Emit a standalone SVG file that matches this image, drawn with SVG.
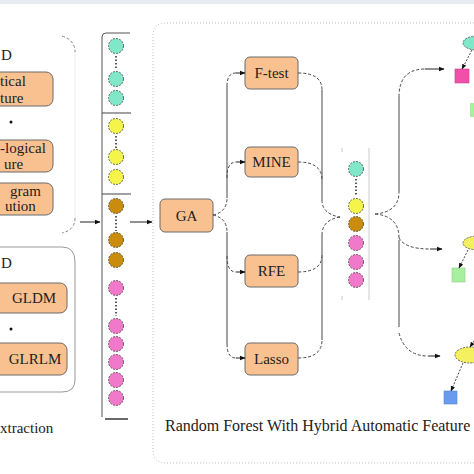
<svg xmlns="http://www.w3.org/2000/svg" width="474" height="474" viewBox="0 0 474 474">
<defs>
<marker id="ah" viewBox="0 0 10 10" refX="9" refY="5" markerWidth="6" markerHeight="6" orient="auto"><path d="M0,1 L10,5 L0,9 z" fill="#111"/></marker>
<style>
.box{fill:#F9C18F;stroke:#6a6a6a;stroke-width:1}
.lbl{font-family:"Liberation Serif","Times New Roman",serif;font-size:15px;fill:#222}
.cv{fill:none;stroke:#444;stroke-width:1;stroke-dasharray:3,2}
.vl{fill:none;stroke:#666;stroke-width:1.2}
.ar{fill:none;stroke:#222;stroke-width:1;marker-end:url(#ah)}
.dots{stroke:#333;stroke-width:1.6;stroke-dasharray:1.5,2}
.c{stroke:#444;stroke-width:0.8;stroke-dasharray:2,1.2}
.teal{fill:#80E8C8}.yel{fill:#F4F44A}.brn{fill:#C98C0C}.pnk{fill:#F07AC9}
.da{fill:none;stroke:#333;stroke-width:0.9;stroke-dasharray:2,1.5;marker-end:url(#ah)}
</style>
</defs>
<rect x="0" y="0" width="474" height="474" fill="#fff"/>
<rect x="0" y="0" width="474" height="4" fill="#E6ECF2"/>

<!-- left panels -->
<g id="panel-left-top">
<path d="M62,36 Q75,40 75,52" fill="none" stroke="#888" stroke-dasharray="3,2"/>
<path d="M75,52 V218" fill="none" stroke="#eee"/>
<path d="M75,218 Q75,230 62,233" fill="none" stroke="#888" stroke-dasharray="3,2"/>
<text class="lbl" x="1" y="60">D</text>
<circle cx="11" cy="122" r="1.5" fill="#111"/>
</g>
<g id="node-statistical">
<rect class="box" x="-20" y="72" width="73" height="34" rx="7"/>
<text class="lbl" x="0" y="86">tical</text>
<text class="lbl" x="0" y="103">ture</text>
</g>
<g id="node-morphological">
<rect class="box" x="-20" y="140" width="73" height="32" rx="7"/>
<text class="lbl" x="0" y="153">-logical</text>
<text class="lbl" x="4" y="169">ure</text>
</g>
<g id="node-histogram">
<rect class="box" x="-20" y="183" width="73" height="32" rx="7"/>
<text class="lbl" x="10" y="196">gram</text>
<text class="lbl" x="5" y="211">ution</text>
</g>
<g id="panel-left-bottom">
<path d="M0,247 H62 Q75,247 75,262 V380 Q75,392 62,392 H0" fill="none" stroke="#999" stroke-width="1"/>
<text class="lbl" x="1" y="268">D</text>
<circle cx="11" cy="329" r="1.5" fill="#111"/>
</g>
<g id="node-gldm">
<rect class="box" x="-20" y="283" width="87" height="30" rx="7"/>
<text class="lbl" x="34" y="303" text-anchor="middle">GLDM</text>
</g>
<g id="node-glrlm">
<rect class="box" x="-20" y="343" width="87" height="32" rx="7"/>
<text class="lbl" x="35" y="364" text-anchor="middle">GLRLM</text>
</g>
<text class="lbl" x="0" y="433">xtraction</text>

<!-- feature column -->
<g id="feature-column">
<path d="M130,33 H106 Q102,33 102,37 V417" fill="none" stroke="#555" stroke-width="1"/>
<path d="M102,113 H131 M102,194 H131" stroke="#444" stroke-width="1.2"/>
<path d="M105,419 H128" stroke="#444" stroke-width="1.6"/>
<circle class="c teal" cx="116" cy="46" r="7.5"/>
<line class="dots" x1="116" y1="56" x2="116" y2="70"/>
<circle class="c teal" cx="116" cy="79" r="7.5"/>
<circle class="c teal" cx="116" cy="98" r="7.5"/>
<circle class="c yel" cx="116" cy="126" r="7.5"/>
<line class="dots" x1="116" y1="136" x2="116" y2="148"/>
<circle class="c yel" cx="116" cy="157" r="7.5"/>
<circle class="c yel" cx="116" cy="177" r="7.5"/>
<circle class="c brn" cx="116" cy="206" r="7.5"/>
<line class="dots" x1="116" y1="216" x2="116" y2="231"/>
<circle class="c brn" cx="116" cy="240" r="7.5"/>
<circle class="c brn" cx="116" cy="260" r="7.5"/>
<circle class="c pnk" cx="116" cy="288" r="7.5"/>
<line class="dots" x1="116" y1="298" x2="116" y2="316"/>
<circle class="c pnk" cx="116" cy="326" r="7.5"/>
<circle class="c pnk" cx="116" cy="344" r="7.5"/>
<circle class="c pnk" cx="116" cy="362" r="7.5"/>
<circle class="c pnk" cx="116" cy="380" r="7.5"/>
<circle class="c pnk" cx="116" cy="398" r="7.5"/>
</g>

<!-- right big panel -->
<g id="panel-right">
<path d="M474,23 H166 Q153,23 153,36 V450 Q153,463 166,463 H474" fill="none" stroke="#bbb" stroke-width="1" stroke-dasharray="1,2"/>
<text class="lbl" x="165" y="431" style="font-size:16px">Random Forest With Hybrid Automatic Feature</text>
</g>

<g id="node-ga">
<rect class="box" x="160" y="199" width="53" height="33" rx="5"/>
<text class="lbl" x="186.5" y="221" text-anchor="middle">GA</text>
</g>
<g id="node-ftest">
<rect class="box" x="245" y="57" width="53" height="32" rx="5"/>
<text class="lbl" x="271.5" y="78" text-anchor="middle">F-test</text>
</g>
<g id="node-mine">
<rect class="box" x="245" y="147" width="53" height="30" rx="5"/>
<text class="lbl" x="271.5" y="167" text-anchor="middle">MINE</text>
</g>
<g id="node-rfe">
<rect class="box" x="245" y="255" width="53" height="32" rx="5"/>
<text class="lbl" x="271.5" y="276" text-anchor="middle">RFE</text>
</g>
<g id="node-lasso">
<rect class="box" x="245" y="343" width="53" height="32" rx="5"/>
<text class="lbl" x="271.5" y="364" text-anchor="middle">Lasso</text>
</g>

<!-- selected features column -->
<g id="selected-column">
<path d="M342,152 V148 M342,296 V300 M369,148 V300" fill="none" stroke="#ccc" stroke-width="1"/>
<circle class="c teal" cx="356" cy="169" r="7.5"/>
<line class="dots" x1="356" y1="179" x2="356" y2="195"/>
<circle class="c yel" cx="356" cy="206" r="7.5"/>
<circle class="c brn" cx="356" cy="224" r="7.5"/>
<circle class="c pnk" cx="356" cy="243" r="7.5"/>
<circle class="c pnk" cx="356" cy="262" r="7.5"/>
<circle class="c pnk" cx="356" cy="280" r="7.5"/>
</g>

<!-- right nodes -->
<g id="node-tree1">
<ellipse class="c" cx="477" cy="43" rx="14" ry="7" fill="#80E8C8"/>
<rect x="455" y="69" width="14" height="14" fill="#F050A8" stroke="#c04090" stroke-width="0.6"/>
<rect x="470" y="103" width="14" height="14" fill="#A8F0A0"/>
<line class="da" x1="472" y1="50" x2="462" y2="69"/>
</g>
<g id="node-tree2">
<ellipse class="c" cx="478" cy="243" rx="15" ry="7" fill="#F5F060"/>
<rect x="452" y="268" width="13" height="14" fill="#A8F0A0" stroke="#8c8" stroke-width="0.6"/>
<line class="da" x1="468" y1="250" x2="459" y2="268"/>
</g>
<g id="node-tree3">
<ellipse class="c" cx="470" cy="355" rx="15" ry="8" fill="#F5F060"/>
<rect x="444" y="391" width="13" height="13" fill="#6A9AF0" stroke="#58c" stroke-width="0.6"/>
<line class="da" x1="463" y1="363" x2="451" y2="391"/>
<line class="da" x1="476" y1="338" x2="470" y2="347"/>
</g>

<!-- connectors -->
<g id="connectors">
<line class="ar" x1="80" y1="222" x2="100" y2="222"/>
<line class="ar" x1="130" y1="222" x2="152" y2="222"/>
<path class="cv" d="M213,215 Q227,212 227,198"/>
<path class="vl" d="M227,198 V86"/>
<path class="cv" d="M227,86 Q227,73 236,73"/>
<path class="ar" d="M236,73 H245"/>
<path class="cv" d="M227,178 Q227,162 236,162"/>
<path class="ar" d="M236,162 H245"/>
<path class="cv" d="M213,215 Q227,218 227,232"/>
<path class="vl" d="M227,232 V344"/>
<path class="cv" d="M227,344 Q227,358 236,358"/>
<path class="ar" d="M236,358 H245"/>
<path class="cv" d="M227,256 Q227,272 236,272"/>
<path class="ar" d="M236,272 H245"/>
<path class="cv" d="M298,73 Q322,73 322,90"/>
<path class="vl" d="M322,90 V200"/>
<path class="cv" d="M322,200 Q322,214 340,217"/>
<path class="cv" d="M298,162 Q322,162 322,180"/>
<path class="cv" d="M298,272 Q322,272 322,255"/>
<path class="cv" d="M298,358 Q322,358 322,340"/>
<path class="vl" d="M322,340 V235"/>
<path class="cv" d="M322,235 Q322,220 340,217"/>
<path class="cv" d="M375,214 Q399,212 399,192"/>
<path class="vl" d="M399,192 V97" stroke="#999"/>
<path class="cv" d="M399,97 Q399,69 425,69"/>
<path class="ar" d="M425,69 H444"/>
<path class="cv" d="M375,214 Q399,216 399,238"/>
<path class="cv" d="M399,238 Q405,249 430,249"/>
<path class="ar" d="M430,249 H442"/>
<path class="vl" d="M399,240 V327" stroke="#999"/>
<path class="cv" d="M399,333 Q405,356 428,356"/>
<path class="ar" d="M428,356 H440"/>
</g>
</svg>
